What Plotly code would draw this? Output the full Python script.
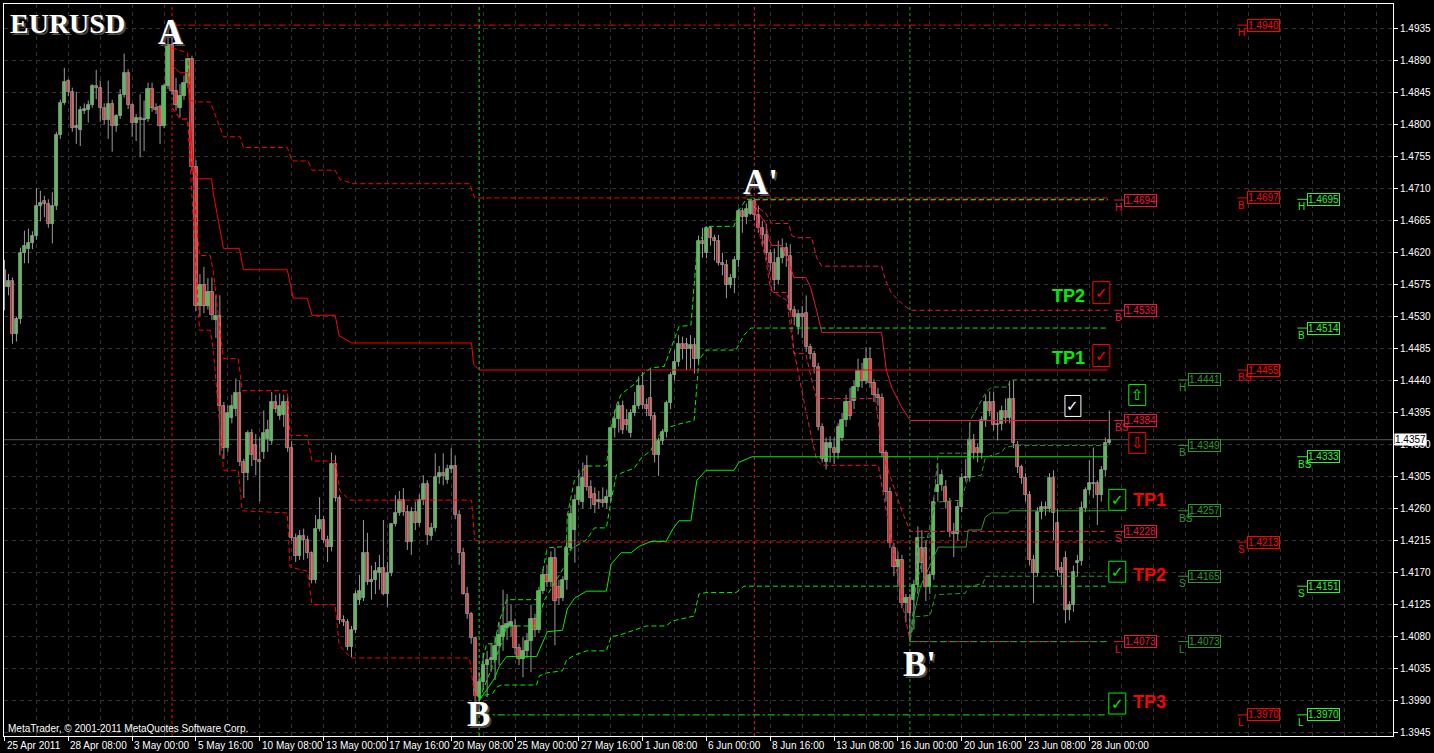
import plotly.graph_objects as go

# ---------------- price bars (EURUSD, H4), bar index 0..277 ----------------
opens = [
    1.4595, 1.4572, 1.4580, 1.4505, 1.4527, 1.4620, 1.4625, 1.4633, 1.4643, 1.4685,
    1.4692, 1.4688, 1.4661, 1.4685, 1.4786, 1.4831, 1.4862, 1.4846, 1.4796, 1.4793,
    1.4819, 1.4820, 1.4827, 1.4855, 1.4852, 1.4824, 1.4806, 1.4829, 1.4798, 1.4812,
    1.4842, 1.4873, 1.4828, 1.4803, 1.4810, 1.4806, 1.4808, 1.4850, 1.4824, 1.4825,
    1.4798, 1.4854, 1.4912, 1.4848, 1.4824, 1.4840, 1.4858, 1.4892, 1.4740, 1.4545,
    1.4575, 1.4545, 1.4565, 1.4526, 1.4531, 1.4404, 1.4345, 1.4388, 1.4400, 1.4422,
    1.4325, 1.4310, 1.4366, 1.4350, 1.4328, 1.4340, 1.4358, 1.4355, 1.4410, 1.4390,
    1.4392, 1.4410, 1.4345, 1.4219, 1.4193, 1.4222, 1.4216, 1.4198, 1.4160, 1.4231,
    1.4244, 1.4216, 1.4206, 1.4323, 1.4275, 1.4103, 1.4100, 1.4066, 1.4090, 1.4131,
    1.4135, 1.4198, 1.4157, 1.4160, 1.4170, 1.4177, 1.4140, 1.4170, 1.4238, 1.4254,
    1.4272, 1.4256, 1.4213, 1.4255, 1.4240, 1.4272, 1.4294, 1.4221, 1.4233, 1.4304,
    1.4310, 1.4300, 1.4316, 1.4320, 1.4251, 1.4198, 1.4140, 1.4112, 1.4078, 1.3995,
    1.4016, 1.4040, 1.4047, 1.4047, 1.4067, 1.4080, 1.4092, 1.4095, 1.4095, 1.4064,
    1.4049, 1.4060, 1.4074, 1.4105, 1.4090, 1.4144, 1.4167, 1.4157, 1.4191, 1.4150,
    1.4135, 1.4160, 1.4205, 1.4230, 1.4272, 1.4270, 1.4320, 1.4290, 1.4280, 1.4270,
    1.4272, 1.4268, 1.4276, 1.4373, 1.4386, 1.4405, 1.4385, 1.4367, 1.4395, 1.4405,
    1.4433, 1.4406, 1.4415, 1.4390, 1.4335, 1.4355, 1.4368, 1.4408, 1.4448, 1.4466,
    1.4492, 1.4492, 1.4485, 1.4490, 1.4470, 1.4636, 1.4620, 1.4654, 1.4640, 1.4637,
    1.4606, 1.4603, 1.4575, 1.4584, 1.4609, 1.4679, 1.4670, 1.4675, 1.4693, 1.4673,
    1.4655, 1.4645, 1.4619, 1.4605, 1.4581, 1.4612, 1.4626, 1.4615, 1.4539, 1.4515,
    1.4534, 1.4535, 1.4487, 1.4478, 1.4459, 1.4375, 1.4326, 1.4346, 1.4346, 1.4338,
    1.4359, 1.4384, 1.4410, 1.4412, 1.4431, 1.4454, 1.4440, 1.4471, 1.4437, 1.4420,
    1.4415, 1.4338, 1.4283, 1.4205, 1.4178, 1.4188, 1.4127, 1.4135, 1.4131, 1.4153,
    1.4205, 1.4205, 1.4150, 1.4167, 1.4283, 1.4293, 1.4290, 1.4269, 1.4227, 1.4224,
    1.4262, 1.4303, 1.4303, 1.4356, 1.4346, 1.4338, 1.4384, 1.4410, 1.4410, 1.4377,
    1.4379, 1.4398, 1.4387, 1.4414, 1.4350, 1.4318, 1.4303, 1.4279, 1.4188, 1.4170,
    1.4255, 1.4262, 1.4260, 1.4303, 1.4240, 1.4176, 1.4190, 1.4117, 1.4124, 1.4183,
    1.4186, 1.4261, 1.4286, 1.4296, 1.4296, 1.4279, 1.4314, 1.4353,
]
highs = [
    1.4610, 1.4590, 1.4585, 1.4530, 1.4627, 1.4651, 1.4654, 1.4650, 1.4711, 1.4707,
    1.4700, 1.4695, 1.4705, 1.4790, 1.4835, 1.4880, 1.4864, 1.4852, 1.4846, 1.4826,
    1.4830, 1.4834, 1.4857, 1.4877, 1.4862, 1.4830, 1.4862, 1.4835, 1.4815, 1.4850,
    1.4900, 1.4878, 1.4830, 1.4815, 1.4843, 1.4834, 1.4859, 1.4859, 1.4830, 1.4828,
    1.4858, 1.4932, 1.4940, 1.4866, 1.4857, 1.4869, 1.4894, 1.4897, 1.4750, 1.4590,
    1.4600, 1.4584, 1.4585, 1.4560, 1.4560, 1.4410, 1.4405, 1.4420, 1.4443, 1.4440,
    1.4330, 1.4370, 1.4372, 1.4365, 1.4360, 1.4398, 1.4385, 1.4424, 1.4420, 1.4422,
    1.4420, 1.4418, 1.4355, 1.4225, 1.4230, 1.4232, 1.4222, 1.4200, 1.4251, 1.4276,
    1.4250, 1.4222, 1.4339, 1.4335, 1.4279, 1.4110, 1.4105, 1.4095, 1.4145, 1.4167,
    1.4244, 1.4226, 1.4180, 1.4185, 1.4195, 1.4244, 1.4185, 1.4240, 1.4279, 1.4285,
    1.4289, 1.4265, 1.4262, 1.4270, 1.4280, 1.4307, 1.4300, 1.4240, 1.4338, 1.4320,
    1.4338, 1.4322, 1.4345, 1.4335, 1.4258, 1.4205, 1.4150, 1.4115, 1.4080, 1.4030,
    1.4057, 1.4060, 1.4070, 1.4080, 1.4100, 1.4146, 1.4140, 1.4125, 1.4105, 1.4070,
    1.4080, 1.4085, 1.4125, 1.4112, 1.4150, 1.4175, 1.4181, 1.4200, 1.4205, 1.4160,
    1.4165, 1.4215, 1.4265, 1.4280, 1.4314, 1.4325, 1.4335, 1.4300, 1.4290, 1.4285,
    1.4290, 1.4287, 1.4375, 1.4398, 1.4410, 1.4412, 1.4400, 1.4400, 1.4424, 1.4446,
    1.4452, 1.4415, 1.4457, 1.4395, 1.4360, 1.4372, 1.4412, 1.4452, 1.4483, 1.4504,
    1.4502, 1.4500, 1.4504, 1.4500, 1.4644, 1.4655, 1.4657, 1.4657, 1.4645, 1.4645,
    1.4620, 1.4610, 1.4590, 1.4615, 1.4682, 1.4683, 1.4689, 1.4694, 1.4697, 1.4686,
    1.4665, 1.4660, 1.4625, 1.4626, 1.4637, 1.4640, 1.4634, 1.4632, 1.4545, 1.4540,
    1.4545, 1.4560, 1.4492, 1.4482, 1.4465, 1.4380, 1.4360, 1.4362, 1.4360, 1.4380,
    1.4395, 1.4420, 1.4430, 1.4440, 1.4471, 1.4465, 1.4487, 1.4487, 1.4442, 1.4430,
    1.4422, 1.4342, 1.4290, 1.4212, 1.4200, 1.4195, 1.4140, 1.4140, 1.4160, 1.4235,
    1.4230, 1.4215, 1.4172, 1.4275, 1.4324, 1.4315, 1.4300, 1.4275, 1.4240, 1.4270,
    1.4310, 1.4330, 1.4381, 1.4365, 1.4352, 1.4390, 1.4420, 1.4425, 1.4424, 1.4395,
    1.4405, 1.4415, 1.4440, 1.4440, 1.4355, 1.4322, 1.4310, 1.4285, 1.4195, 1.4262,
    1.4270, 1.4270, 1.4310, 1.4314, 1.4260, 1.4185, 1.4200, 1.4130, 1.4180, 1.4195,
    1.4270, 1.4290, 1.4328, 1.4346, 1.4300, 1.4320, 1.4360, 1.4398,
]
lows = [
    1.4539, 1.4560, 1.4492, 1.4495, 1.4520, 1.4605, 1.4605, 1.4625, 1.4638, 1.4664,
    1.4670, 1.4655, 1.4633, 1.4680, 1.4780, 1.4828, 1.4840, 1.4790, 1.4773, 1.4770,
    1.4815, 1.4803, 1.4824, 1.4836, 1.4804, 1.4800, 1.4780, 1.4762, 1.4790, 1.4808,
    1.4838, 1.4822, 1.4783, 1.4777, 1.4754, 1.4763, 1.4804, 1.4818, 1.4815, 1.4773,
    1.4795, 1.4850, 1.4842, 1.4820, 1.4810, 1.4835, 1.4852, 1.4735, 1.4538, 1.4530,
    1.4535, 1.4540, 1.4525, 1.4500, 1.4335, 1.4330, 1.4340, 1.4380, 1.4390, 1.4320,
    1.4275, 1.4300, 1.4320, 1.4307, 1.4270, 1.4330, 1.4340, 1.4350, 1.4395, 1.4385,
    1.4375, 1.4340, 1.4215, 1.4185, 1.4188, 1.4188, 1.4190, 1.4155, 1.4155, 1.4228,
    1.4212, 1.4185, 1.4200, 1.4270, 1.4098, 1.4095, 1.4061, 1.4051, 1.4085, 1.4125,
    1.4130, 1.4153, 1.4132, 1.4140, 1.4146, 1.4138, 1.4122, 1.4165, 1.4235, 1.4250,
    1.4250, 1.4202, 1.4195, 1.4230, 1.4235, 1.4265, 1.4209, 1.4216, 1.4228, 1.4295,
    1.4293, 1.4295, 1.4310, 1.4245, 1.4181, 1.4139, 1.4105, 1.4070, 1.3975, 1.3970,
    1.4005, 1.3995, 1.4030, 1.4019, 1.4040, 1.4060, 1.4075, 1.4080, 1.4055, 1.4040,
    1.4023, 1.4050, 1.4030, 1.4080, 1.4085, 1.4140, 1.4150, 1.4150, 1.4068, 1.4125,
    1.4130, 1.4146, 1.4200, 1.4184, 1.4265, 1.4260, 1.4285, 1.4260, 1.4254, 1.4260,
    1.4262, 1.4260, 1.4270, 1.4360, 1.4367, 1.4365, 1.4370, 1.4360, 1.4390, 1.4400,
    1.4400, 1.4390, 1.4385, 1.4325, 1.4306, 1.4350, 1.4360, 1.4400, 1.4440, 1.4460,
    1.4470, 1.4455, 1.4457, 1.4450, 1.4465, 1.4613, 1.4612, 1.4630, 1.4609, 1.4602,
    1.4588, 1.4556, 1.4570, 1.4563, 1.4600, 1.4648, 1.4660, 1.4673, 1.4665, 1.4648,
    1.4630, 1.4610, 1.4595, 1.4567, 1.4575, 1.4605, 1.4600, 1.4536, 1.4518, 1.4505,
    1.4500, 1.4480, 1.4470, 1.4450, 1.4370, 1.4325, 1.4315, 1.4325, 1.4323, 1.4330,
    1.4355, 1.4375, 1.4385, 1.4400, 1.4425, 1.4430, 1.4435, 1.4430, 1.4410, 1.4405,
    1.4333, 1.4270, 1.4205, 1.4165, 1.4150, 1.4120, 1.4100, 1.4073, 1.4090, 1.4140,
    1.4170, 1.4130, 1.4140, 1.4160, 1.4270, 1.4285, 1.4260, 1.4220, 1.4192, 1.4215,
    1.4255, 1.4298, 1.4298, 1.4330, 1.4325, 1.4330, 1.4375, 1.4390, 1.4370, 1.4356,
    1.4370, 1.4380, 1.4380, 1.4345, 1.4310, 1.4295, 1.4270, 1.4180, 1.4127, 1.4165,
    1.4245, 1.4250, 1.4255, 1.4216, 1.4165, 1.4153, 1.4099, 1.4103, 1.4115, 1.4165,
    1.4180, 1.4255, 1.4280, 1.4275, 1.4237, 1.4270, 1.4305, 1.4350,
]
closes = [
    1.4572, 1.4580, 1.4505, 1.4527, 1.4620, 1.4630, 1.4633, 1.4643, 1.4685, 1.4690,
    1.4688, 1.4661, 1.4685, 1.4786, 1.4831, 1.4860, 1.4846, 1.4796, 1.4798, 1.4821,
    1.4822, 1.4827, 1.4855, 1.4852, 1.4824, 1.4806, 1.4829, 1.4798, 1.4812, 1.4842,
    1.4873, 1.4828, 1.4803, 1.4810, 1.4806, 1.4808, 1.4850, 1.4824, 1.4821, 1.4798,
    1.4854, 1.4912, 1.4848, 1.4827, 1.4840, 1.4858, 1.4892, 1.4740, 1.4545, 1.4575,
    1.4545, 1.4565, 1.4532, 1.4531, 1.4404, 1.4345, 1.4395, 1.4405, 1.4422, 1.4325,
    1.4310, 1.4366, 1.4335, 1.4328, 1.4325, 1.4366, 1.4370, 1.4410, 1.4400, 1.4404,
    1.4410, 1.4345, 1.4219, 1.4193, 1.4222, 1.4216, 1.4198, 1.4160, 1.4231, 1.4244,
    1.4216, 1.4206, 1.4323, 1.4275, 1.4103, 1.4100, 1.4066, 1.4090, 1.4140, 1.4144,
    1.4198, 1.4157, 1.4160, 1.4172, 1.4177, 1.4140, 1.4170, 1.4238, 1.4254, 1.4272,
    1.4256, 1.4213, 1.4255, 1.4240, 1.4272, 1.4294, 1.4223, 1.4233, 1.4304, 1.4310,
    1.4306, 1.4316, 1.4320, 1.4251, 1.4198, 1.4140, 1.4112, 1.4078, 1.3997, 1.4016,
    1.4040, 1.4047, 1.4050, 1.4067, 1.4083, 1.4095, 1.4098, 1.4100, 1.4064, 1.4049,
    1.4060, 1.4074, 1.4105, 1.4090, 1.4144, 1.4167, 1.4157, 1.4191, 1.4130, 1.4135,
    1.4160, 1.4205, 1.4252, 1.4272, 1.4290, 1.4303, 1.4290, 1.4275, 1.4265, 1.4272,
    1.4268, 1.4276, 1.4373, 1.4386, 1.4405, 1.4370, 1.4378, 1.4395, 1.4405, 1.4433,
    1.4406, 1.4400, 1.4390, 1.4335, 1.4355, 1.4368, 1.4408, 1.4448, 1.4466, 1.4491,
    1.4485, 1.4484, 1.4490, 1.4470, 1.4636, 1.4632, 1.4654, 1.4640, 1.4637, 1.4606,
    1.4603, 1.4575, 1.4584, 1.4609, 1.4679, 1.4670, 1.4681, 1.4693, 1.4673, 1.4655,
    1.4645, 1.4619, 1.4605, 1.4581, 1.4612, 1.4626, 1.4615, 1.4539, 1.4529, 1.4534,
    1.4530, 1.4487, 1.4478, 1.4459, 1.4375, 1.4330, 1.4353, 1.4353, 1.4338, 1.4375,
    1.4384, 1.4410, 1.4390, 1.4431, 1.4454, 1.4440, 1.4471, 1.4437, 1.4420, 1.4415,
    1.4338, 1.4283, 1.4212, 1.4178, 1.4188, 1.4127, 1.4135, 1.4113, 1.4153, 1.4219,
    1.4183, 1.4150, 1.4167, 1.4269, 1.4293, 1.4307, 1.4269, 1.4227, 1.4224, 1.4262,
    1.4303, 1.4305, 1.4356, 1.4338, 1.4338, 1.4384, 1.4410, 1.4398, 1.4377, 1.4379,
    1.4398, 1.4387, 1.4414, 1.4353, 1.4318, 1.4303, 1.4279, 1.4188, 1.4170, 1.4255,
    1.4262, 1.4260, 1.4303, 1.4254, 1.4174, 1.4170, 1.4117, 1.4124, 1.4171, 1.4186,
    1.4261, 1.4286, 1.4296, 1.4294, 1.4279, 1.4314, 1.4353, 1.4357,
]
bars = list(range(len(closes)))
current_price = 1.4357

# ---------------- axis labels ----------------
date_tick_bars = [0, 16, 32, 48, 64, 80, 96, 112, 128, 144, 160, 176, 192, 208, 224, 240, 256, 272]
date_tick_text = ["25 Apr 2011", "28 Apr 08:00", "3 May 00:00", "5 May 16:00", "10 May 08:00",
                  "13 May 00:00", "17 May 16:00", "20 May 08:00", "25 May 00:00", "27 May 16:00",
                  "1 Jun 08:00", "6 Jun 00:00", "8 Jun 16:00", "13 Jun 08:00", "16 Jun 00:00",
                  "20 Jun 16:00", "23 Jun 08:00", "28 Jun 00:00"]
price_ticks = [1.3945, 1.3990, 1.4035, 1.4080, 1.4125, 1.4170, 1.4215, 1.4260, 1.4305, 1.4350,
               1.4395, 1.4440, 1.4485, 1.4530, 1.4575, 1.4620, 1.4665, 1.4710, 1.4755, 1.4800,
               1.4845, 1.4890, 1.4935]

# ---------------- swing points ----------------
swing_bars = {"A": 42, "B": 119, "A'": 188, "B'": 227}

# ---------------- level lines from A (red) ----------------
a_high_x = [42.4, 276.6]
a_high_y = [1.4940, 1.4940]
a_upper_x = [42, 45.9, 46.6, 48.9, 51.6, 54.9, 59.1, 59.9, 70.9, 72.1, 76.1, 77.1, 82.9, 84.1, 87.4, 116.6, 117.9, 276.6]
a_upper_y = [1.4908, 1.4901, 1.4834, 1.4832, 1.4832, 1.4783, 1.4783, 1.4768, 1.4768, 1.4749, 1.4749, 1.4736, 1.4736, 1.4723, 1.4717, 1.4717, 1.4697, 1.4697]
a_mid_x = [42, 44.1, 45.9, 47.4, 48.6, 51.9, 52.4, 54.9, 58.9, 59.9, 70.9, 72.4, 75.9, 77.1, 82.9, 83.9, 87.1, 117.1, 117.6, 119.1, 276.6]
a_mid_y = [1.4883, 1.4873, 1.4873, 1.4735, 1.4724, 1.4724, 1.4702, 1.4626, 1.4626, 1.4596, 1.4596, 1.4556, 1.4556, 1.4532, 1.4532, 1.4503, 1.4493, 1.4493, 1.4463, 1.4455, 1.4455]
a_inner_x = [42, 44.1, 45.9, 48.9, 51.6, 52.4, 53.4, 54.9, 58.6, 59.6, 70.9, 71.6, 75.9, 77.1, 82.9, 84.1, 86.6, 117.1, 117.9, 119.1, 276.6]
a_inner_y = [1.4824, 1.4808, 1.4808, 1.4616, 1.4616, 1.4592, 1.4542, 1.4471, 1.4471, 1.4426, 1.4426, 1.4363, 1.4363, 1.4327, 1.4327, 1.4285, 1.4272, 1.4272, 1.4216, 1.4213, 1.4213]
a_low_x = [42, 44.1, 45.9, 48.9, 51.6, 52.4, 54.9, 58.6, 59.6, 70.9, 71.6, 75.9, 77.1, 82.9, 83.9, 86.9, 116.6, 117.4, 118.9]
a_low_y = [1.4824, 1.4808, 1.4808, 1.4511, 1.4511, 1.4480, 1.4314, 1.4314, 1.4257, 1.4254, 1.4178, 1.4172, 1.4125, 1.4125, 1.4068, 1.4050, 1.4050, 1.4015, 1.3970]

# ---------------- level lines from B (lime) ----------------
b_upper_x = [119, 119.9, 120.9, 122.9, 123.9, 124.9, 125.9, 133.4, 134.1, 134.9, 135.9, 136.6, 140.9, 141.1, 142.9, 145.9, 150.9, 152.1, 153.4, 154.6, 157.9, 159.6, 162.1, 165.4, 167.1, 169.1, 172.1, 173.6, 175.9, 182.9, 184.1, 185.9, 276.6]
b_upper_y = [1.3994, 1.4049, 1.4070, 1.4070, 1.4099, 1.4115, 1.4132, 1.4132, 1.4144, 1.4170, 1.4200, 1.4205, 1.4207, 1.4250, 1.4300, 1.4320, 1.4320, 1.4376, 1.4405, 1.4421, 1.4435, 1.4447, 1.4458, 1.4460, 1.4485, 1.4516, 1.4518, 1.4623, 1.4657, 1.4657, 1.4679, 1.4695, 1.4695]
b_inner_x = [119, 120.9, 122.9, 124.9, 125.9, 133.4, 135.4, 140.4, 141.6, 145.9, 147.9, 150.9, 152.1, 153.4, 154.6, 157.9, 159.6, 162.1, 163.4, 165.9, 169.1, 172.9, 174.1, 175.9, 183.4, 185.4, 187.1, 276.6]
b_inner_y = [1.3991, 1.4019, 1.4047, 1.4075, 1.4095, 1.4095, 1.4132, 1.4179, 1.4202, 1.4216, 1.4233, 1.4233, 1.4272, 1.4307, 1.4310, 1.4317, 1.4331, 1.4342, 1.4359, 1.4373, 1.4379, 1.4384, 1.4469, 1.4483, 1.4483, 1.4504, 1.4514, 1.4514]
b_mid_x = [119, 120.9, 122.9, 124.1, 125.9, 133.4, 136.1, 139.9, 141.1, 142.9, 145.9, 150.9, 152.1, 154.6, 157.1, 159.1, 162.1, 165.9, 167.4, 169.1, 172.1, 173.6, 175.9, 182.9, 184.1, 187.4, 276.6]
b_mid_y = [1.3991, 1.4005, 1.4022, 1.4039, 1.4052, 1.4052, 1.4087, 1.4089, 1.4119, 1.4134, 1.4144, 1.4144, 1.4182, 1.4198, 1.4198, 1.4207, 1.4214, 1.4214, 1.4230, 1.4243, 1.4243, 1.4300, 1.4314, 1.4314, 1.4325, 1.4333, 1.4333]
b_low_x = [119, 119.9, 122.4, 123.4, 124.6, 133.4, 134.1, 135.9, 139.9, 140.9, 142.9, 145.9, 150.9, 152.1, 154.1, 157.4, 160.9, 165.9, 167.4, 172.9, 174.1, 175.9, 183.4, 185.4, 276.6]
b_low_y = [1.3990, 1.3997, 1.4000, 1.4009, 1.4012, 1.4012, 1.4025, 1.4029, 1.4032, 1.4047, 1.4054, 1.4060, 1.4060, 1.4080, 1.4082, 1.4088, 1.4095, 1.4095, 1.4102, 1.4109, 1.4140, 1.4142, 1.4142, 1.4151, 1.4151]
b_base_x = [119.9, 276.6]
b_base_y = [1.3970, 1.3970]

# ---------------- level lines from A' (crimson) ----------------
a2_high_x = [188, 276.6]
a2_high_y = [1.4694, 1.4694]
a2_upper_x = [188, 189.1, 190.9, 192.4, 196.6, 197.4, 198.6, 202.4, 203.6, 204.9, 219.9, 220.9, 222.4, 224.9, 227.1, 276.6]
a2_upper_y = [1.4692, 1.4683, 1.4675, 1.4661, 1.4661, 1.4644, 1.4641, 1.4641, 1.4613, 1.4601, 1.4601, 1.4581, 1.4563, 1.4549, 1.4539, 1.4539]
a2_mid_x = [188, 189.1, 190.9, 191.6, 192.4, 194.9, 197.1, 197.9, 200.9, 202.1, 203.6, 204.9, 219.9, 221.1, 222.4, 224.9, 227.1, 276.6]
a2_mid_y = [1.4689, 1.4675, 1.4661, 1.4640, 1.4630, 1.4630, 1.4599, 1.4585, 1.4585, 1.4571, 1.4539, 1.4508, 1.4508, 1.4455, 1.4431, 1.4403, 1.4384, 1.4384]
a2_inner_x = [188, 189.1, 190.9, 192.1, 192.4, 196.1, 197.1, 197.9, 200.9, 202.4, 203.6, 218.4, 219.9, 222.4, 224.9, 227.1, 276.6]
a2_inner_y = [1.4683, 1.4661, 1.4620, 1.4581, 1.4564, 1.4564, 1.4539, 1.4478, 1.4478, 1.4440, 1.4415, 1.4415, 1.4342, 1.4300, 1.4258, 1.4228, 1.4228]
a2_low_x = [188, 190.9, 192.1, 196.1, 197.9, 200.9, 203.6, 204.9, 219.1, 221.1, 222.4, 224.1, 225.4, 227.1, 276.6]
a2_low_y = [1.4679, 1.4609, 1.4567, 1.4553, 1.4483, 1.4398, 1.4328, 1.4321, 1.4321, 1.4258, 1.4216, 1.4160, 1.4118, 1.4073, 1.4073]

# ---------------- level lines from B' (dark green) ----------------
b2_upper_x = [227, 227.9, 229.1, 232.1, 232.9, 234.1, 241.6, 242.1, 245.9, 247.4, 251.6, 252.1, 276.6]
b2_upper_y = [1.4075, 1.4113, 1.4219, 1.4220, 1.4269, 1.4338, 1.4338, 1.4384, 1.4422, 1.4431, 1.4431, 1.4441, 1.4441]
b2_inner_x = [227, 228.4, 233.4, 239.9, 241.6, 244.9, 245.9, 249.9, 250.9, 253.6, 276.6]
b2_inner_y = [1.4075, 1.4146, 1.4269, 1.4272, 1.4304, 1.4307, 1.4332, 1.4339, 1.4346, 1.4349, 1.4349]
b2_mid_x = [227, 227.9, 229.6, 234.1, 241.1, 241.6, 244.9, 245.9, 247.4, 251.6, 252.1, 276.6]
b2_mid_y = [1.4075, 1.4108, 1.4150, 1.4206, 1.4206, 1.4230, 1.4230, 1.4248, 1.4254, 1.4254, 1.4257, 1.4257]
b2_low_x = [227, 228.4, 232.1, 233.4, 240.9, 241.6, 245.4, 245.9, 276.6]
b2_low_y = [1.4075, 1.4108, 1.4110, 1.4139, 1.4141, 1.4150, 1.4155, 1.4165, 1.4165]
b2_base_x = [227, 276.6]
b2_base_y = [1.4073, 1.4073]

# ---------------- right-hand level tables ----------------
level_tags = ["H", "B", "BS", "S", "L"]
levels_a2 = [1.4694, 1.4539, 1.4384, 1.4228, 1.4073]
levels_b2 = [1.4441, 1.4349, 1.4257, 1.4165, 1.4073]
levels_a1 = [1.4940, 1.4697, 1.4455, 1.4213, 1.3970]
levels_b1 = [1.4695, 1.4514, 1.4333, 1.4151, 1.3970]

# ---------------- styling / layout ----------------
W, H = 1434, 753
ML, MR, MT, MB = 3, 38, 3, 17
X_RANGE = [-0.125, 348.125]
Y_RANGE = [1.39403, 1.49697]

RED = "#FF0000"
LIME = "#00F000"
CRIMSON = "#E8183F"
DKGREEN = "#2E9A2E"
GRID = "#343434"
SANS = "Liberation Sans"
SERIF = "Liberation Serif"
WICK = "#9a9a9a"


def fmt(v):
    return "%.4f" % (v + 1e-9)


def sx(px):
    """screen x (pixels) -> bar-axis units"""
    return X_RANGE[0] + (px - ML) * (X_RANGE[1] - X_RANGE[0]) / (W - ML - MR)


def sy(py):
    """screen y (pixels) -> price-axis units"""
    return Y_RANGE[1] - (py - MT) * (Y_RANGE[1] - Y_RANGE[0]) / (H - MT - MB)


fig = go.Figure()

# wicks
wx, wy = [], []
for b, h, l in zip(bars, highs, lows):
    wx += [b, b, None]
    wy += [l, h, None]
fig.add_trace(go.Scatter(x=wx, y=wy, mode="lines", line=dict(color=WICK, width=1),
                         showlegend=False, hoverinfo="skip"))
# bodies
body_base = [min(o, c) for o, c in zip(opens, closes)]
body_len = [max(abs(c - o), 0.00004) for o, c in zip(opens, closes)]
body_col = ["#2BD62B" if c >= o else "#E81414" for o, c in zip(opens, closes)]
fig.add_trace(go.Bar(x=bars, base=body_base, y=body_len, width=0.8,
                     marker=dict(color=body_col, line=dict(color=WICK, width=0.8)),
                     showlegend=False, hoverinfo="skip"))

DASH = "5px,3px"


def add_line(xs, ys, color, dash):
    fig.add_trace(go.Scatter(x=xs, y=ys, mode="lines", showlegend=False, hoverinfo="skip",
                             line=dict(color=color, width=1, dash=dash)))


add_line(a_high_x, a_high_y, RED, "7px,3px,2px,3px")
add_line(a_upper_x, a_upper_y, RED, DASH)
add_line(a_mid_x, a_mid_y, RED, "solid")
add_line(a_inner_x, a_inner_y, RED, DASH)
add_line(a_low_x, a_low_y, RED, DASH)

add_line(a2_high_x, a2_high_y, CRIMSON, DASH)
add_line(a2_upper_x, a2_upper_y, CRIMSON, DASH)
add_line(a2_mid_x, a2_mid_y, CRIMSON, "solid")
add_line(a2_inner_x, a2_inner_y, CRIMSON, DASH)
add_line(a2_low_x, a2_low_y, CRIMSON, DASH)

add_line(b_upper_x, b_upper_y, LIME, DASH)
add_line(b_inner_x, b_inner_y, LIME, DASH)
add_line(b_mid_x, b_mid_y, LIME, "solid")
add_line(b_low_x, b_low_y, LIME, DASH)
add_line(b_base_x, b_base_y, LIME, "7px,3px,2px,3px")

add_line(b2_upper_x, b2_upper_y, DKGREEN, DASH)
add_line(b2_inner_x, b2_inner_y, DKGREEN, DASH)
add_line(b2_mid_x, b2_mid_y, DKGREEN, "solid")
add_line(b2_low_x, b2_low_y, DKGREEN, DASH)
add_line(b2_base_x, b2_base_y, DKGREEN, "7px,3px")

shapes = []
for name, col in [("A", RED), ("B", LIME), ("A'", CRIMSON), ("B'", DKGREEN)]:
    shapes.append(dict(type="line", xref="x", yref="paper", x0=swing_bars[name], x1=swing_bars[name],
                       y0=0, y1=1, layer="between", line=dict(color=col, width=1, dash="3px,3px")))
shapes.append(dict(type="line", xref="paper", yref="y", x0=0, x1=1, y0=current_price, y1=current_price,
                   layer="between", line=dict(color="#555555", width=1)))

annotations = []

for b, t in zip(date_tick_bars, date_tick_text):
    annotations.append(dict(x=b, y=0, xref="x", yref="paper", text=t, showarrow=False,
                            xanchor="left", yanchor="top", xshift=0, yshift=-2,
                            font=dict(family=SANS, size=10, color="white")))

annotations.append(dict(x=1, y=current_price, xref="paper", yref="y", text=fmt(current_price),
                        showarrow=False, xanchor="left", yanchor="middle", xshift=1,
                        bgcolor="white", borderpad=0, font=dict(family=SANS, size=10, color="black")))

for box_px, col, levels in [(1126, CRIMSON, levels_a2), (1190.5, DKGREEN, levels_b2),
                            (1250, RED, levels_a1), (1310, "#30F030", levels_b1)]:
    for tag, lv in zip(level_tags, levels):
        shapes.append(dict(type="line", xref="x", yref="y", x0=sx(box_px - 10), x1=sx(box_px),
                           y0=lv, y1=lv, line=dict(color=col, width=1)))
        annotations.append(dict(x=sx(box_px), y=lv, xref="x", yref="y", text=fmt(lv),
                                showarrow=False, xanchor="left", yanchor="middle",
                                bordercolor=col, borderwidth=1, borderpad=0, bgcolor="black",
                                font=dict(family=SANS, size=10, color=col)))
        annotations.append(dict(x=sx(box_px - 11), y=lv, xref="x", yref="y", text=tag,
                                showarrow=False, xanchor="left", yanchor="top", yshift=0,
                                font=dict(family=SANS, size=10, color=col)))

boxes = [
    (1095, 281, 1112, 303, RED, "✓", RED),
    (1095, 344, 1112, 366, RED, "✓", RED),
    (1067, 395, 1083, 416, "white", "✓", "white"),
    (1131, 384, 1148, 405, LIME, "⇧", LIME),
    (1131, 432, 1148, 453, RED, "⇩", RED),
    (1111, 489, 1128, 510, LIME, "✓", LIME),
    (1111, 561, 1128, 582, LIME, "✓", LIME),
    (1111, 693, 1128, 714, LIME, "✓", LIME),
]
for x0, y0, x1, y1, bc, glyph, gc in boxes:
    shapes.append(dict(type="rect", xref="x", yref="y", x0=sx(x0), x1=sx(x1), y0=sy(y0), y1=sy(y1),
                       line=dict(color=bc, width=1), fillcolor="black"))
    annotations.append(dict(x=sx((x0 + x1) / 2), y=sy((y0 + y1) / 2), xref="x", yref="y", text=glyph,
                            showarrow=False, xanchor="center", yanchor="middle",
                            font=dict(family="DejaVu Sans", size=15, color=gc)))

for txt, px, pyy, anchor, col in [("TP2", 1089, 295, "right", LIME), ("TP1", 1089, 357, "right", LIME),
                                  ("TP1", 1133, 500, "left", RED), ("TP2", 1133, 575, "left", RED),
                                  ("TP3", 1133, 702, "left", RED)]:
    annotations.append(dict(x=sx(px), y=sy(pyy), xref="x", yref="y", text="<b>%s</b>" % txt,
                            showarrow=False, xanchor=anchor, yanchor="middle",
                            font=dict(family=SANS, size=18, color=col)))

for txt, px, pyy, anchor, size in [("EURUSD", 7, 23, "left", 28), ("A", 170, 32, "center", 35),
                                   ("A'", 742, 182, "left", 35), ("B", 479, 714, "center", 35),
                                   ("B'", 903, 664, "left", 35)]:
    for dx, dy, c in [(2, -2, "#4a4a4a"), (0, 0, "white")]:
        annotations.append(dict(x=sx(px), y=sy(pyy), xref="x", yref="y", text="<b>%s</b>" % txt,
                                showarrow=False, xanchor=anchor, yanchor="middle", xshift=dx, yshift=dy,
                                font=dict(family=SERIF, size=size, color=c)))

annotations.append(dict(x=sx(5), y=sy(728), xref="x", yref="y",
                        text="MetaTrader, © 2001-2011 MetaQuotes Software Corp.",
                        showarrow=False, xanchor="left", yanchor="middle",
                        font=dict(family=SANS, size=10, color="white")))

fig.update_layout(
    width=W, height=H,
    margin=dict(l=ML, r=MR, t=MT, b=MB, pad=0),
    paper_bgcolor="black", plot_bgcolor="black",
    showlegend=False, bargap=0,
    shapes=shapes, annotations=annotations,
    xaxis=dict(range=X_RANGE, tickmode="array", tickvals=date_tick_bars, showticklabels=False,
               ticks="outside", ticklen=4, tickcolor="white",
               showgrid=True, gridcolor=GRID, griddash="4px,4px", gridwidth=1,
               minor=dict(tickmode="linear", tick0=0, dtick=8, showgrid=True, gridcolor=GRID,
                          griddash="4px,4px", ticks=""),
               showline=True, linecolor="white", linewidth=1, mirror=True, zeroline=False,
               fixedrange=True),
    yaxis=dict(range=Y_RANGE, side="right", tickmode="array", tickvals=price_ticks,
               ticktext=[fmt(v) for v in price_ticks],
               tickfont=dict(family=SANS, size=10, color="white"),
               ticks="outside", ticklen=4, tickcolor="white",
               showgrid=True, gridcolor=GRID, griddash="4px,4px", gridwidth=1,
               showline=True, linecolor="white", linewidth=1, mirror=True, zeroline=False,
               fixedrange=True),
)

fig.write_html("out.html", config={"displayModeBar": False},
               post_script="document.body.style.margin='0';document.body.style.background='black';")
